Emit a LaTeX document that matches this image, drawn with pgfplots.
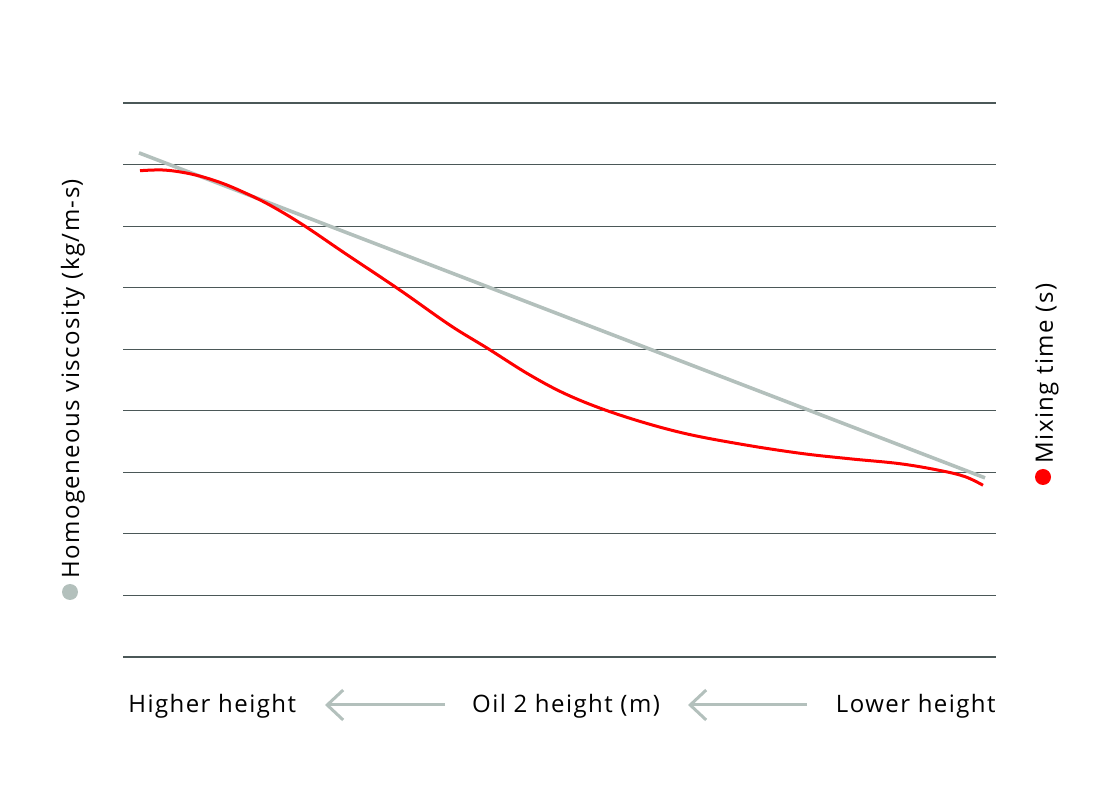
\documentclass[border=0pt]{standalone}
\usepackage{pgfplots}
\pgfplotsset{compat=1.18}
\usetikzlibrary{arrows.meta}
\usepackage{fontspec}
\setmainfont{Open Sans}[LetterSpace=6]
\definecolor{gridc}{HTML}{4B5858}
\definecolor{vgray}{HTML}{B3C0BC}
\definecolor{mred}{HTML}{FF0000}
\begin{document}
\begin{tikzpicture}
% canvas in reference pixels (1 px = 0.5 pt), origin top-left
\begin{scope}[x=0.5pt, y=-0.5pt, shift={(0,393.5pt)}]
  \path (0,0) rectangle (1108,787);
  % left label
  \fill[vgray] (70,592) circle (8);
  \node[anchor=west, rotate=90, inner sep=0pt, font=\fontsize{12}{14}\selectfont] at (73,579) {Homogeneous viscosity (kg/m-s)};
  % right label
  \fill[mred] (1043,477) circle (8);
  \node[anchor=west, rotate=90, inner sep=0pt, font=\fontsize{12}{14}\selectfont] at (1047,464) {Mixing time (s)};
  % bottom label
  \node[anchor=west, inner sep=0pt, font=\fontsize{12}{14}\selectfont] at (128,706) {Higher height};
  \node[inner sep=0pt, font=\fontsize{12}{14}\selectfont] at (566,706) {Oil 2 height (m)};
  \node[anchor=east, inner sep=0pt, font=\fontsize{12}{14}\selectfont] at (996,706) {Lower height};
  \draw[vgray, line width=1.5pt, -{Straight Barb[length=8pt, width=15pt, line width=1.5pt]}] (445,705) -- (325,705);
  \draw[vgray, line width=1.5pt, -{Straight Barb[length=8pt, width=15pt, line width=1.5pt]}] (807,705) -- (688,705);
\end{scope}
\begin{axis}[
    at={(61.5pt,65pt)}, anchor=south west,
    scale only axis,
    width=436.5pt, height=277pt,
    xmin=123, xmax=996, ymin=0, ymax=9,
    xtick=\empty,
    ytick={0,1,...,9}, yticklabels={},
    major tick length=0pt,
    ymajorgrids,
    major grid style={gridc, line width=0.6pt},
    axis line style={draw=none},
    clip=false,
  ]
  % homogeneous viscosity
  \addplot[vgray, line width=1.8pt, mark=none] coordinates {(139,8.19) (985,2.91)};
  % mixing time
  \addplot[mred, line width=1.5pt, mark=none, smooth, tension=0.6] coordinates {
    (140,7.90) (165,7.91) (193,7.84) (220,7.71) (245,7.54) (270,7.34)
    (303,7.02) (343,6.58) (400,5.96) (450,5.39) (487,5.02)
    (530,4.58) (570,4.24) (620,3.93) (680,3.65) (740,3.46) (800,3.31)
    (850,3.22) (900,3.14) (940,3.03) (965,2.93) (983,2.79)
  };
\end{axis}
\end{tikzpicture}
\end{document}
